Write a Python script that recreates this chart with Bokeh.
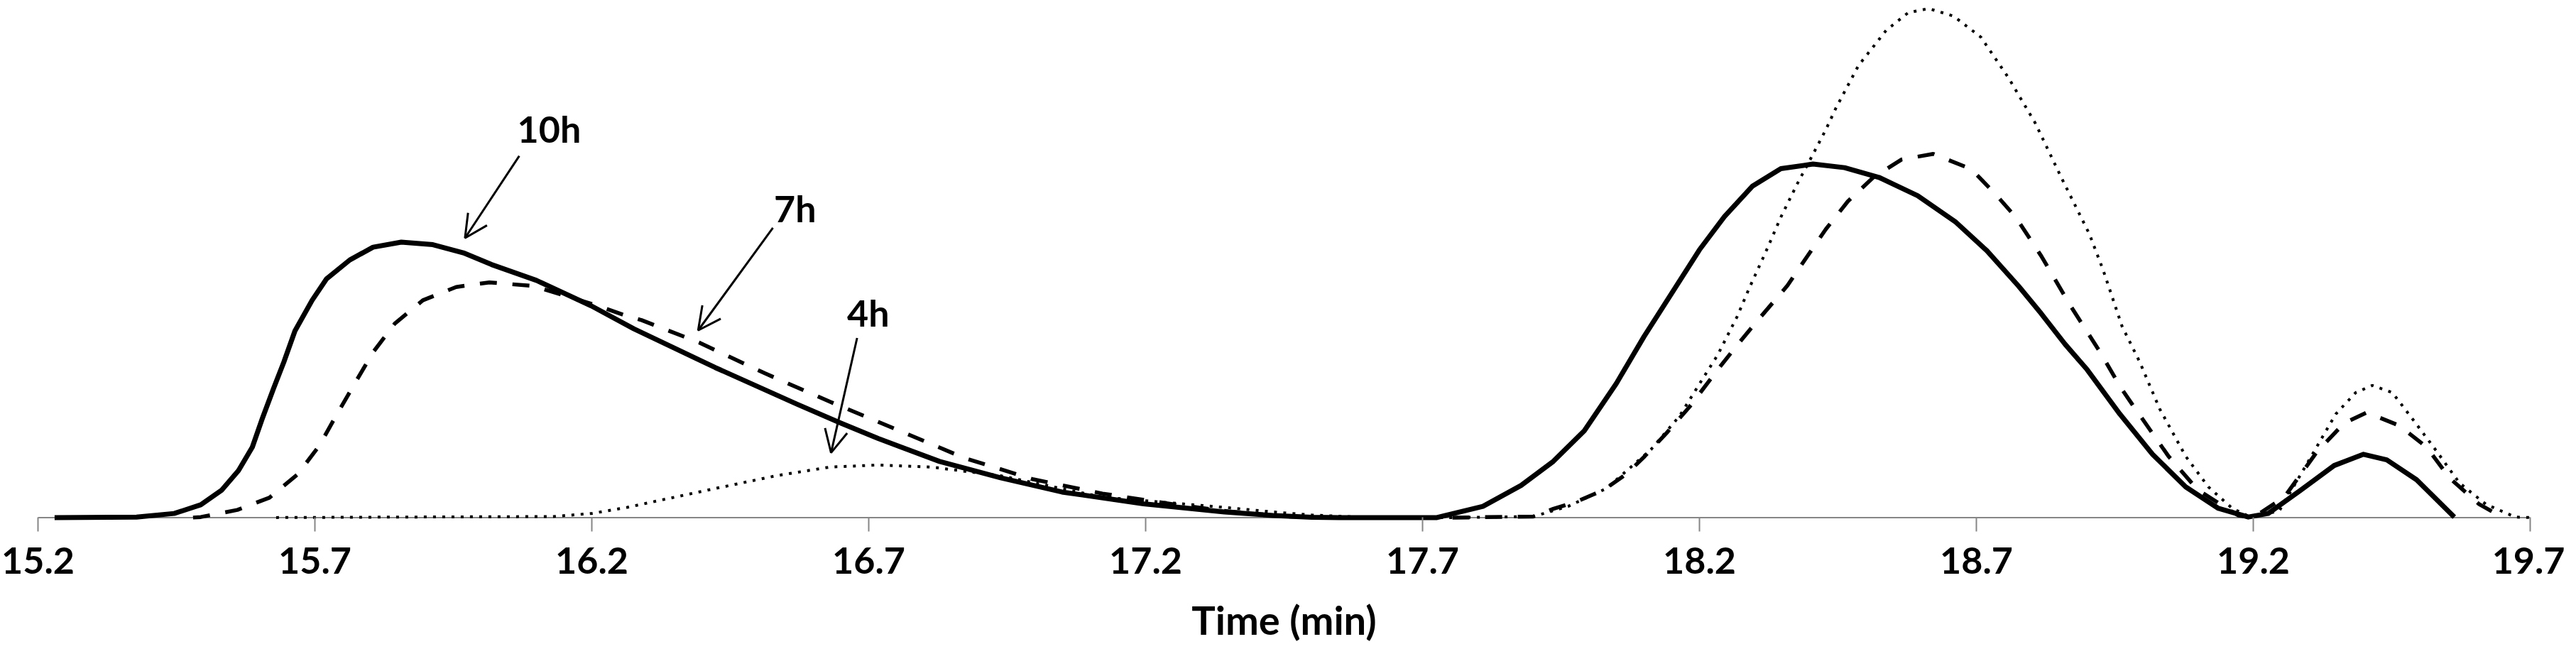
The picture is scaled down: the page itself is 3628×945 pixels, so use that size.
from bokeh.plotting import figure
from bokeh.models import Range1d, FixedTicker, Span, Arrow, OpenHead, ColumnDataSource
from bokeh.core.properties import value
from bokeh.embed import file_html
from bokeh.resources import INLINE

# ---- data ----
t_10h = [15.23, 15.378, 15.446, 15.494, 15.532, 15.562, 15.587, 15.605, 15.626, 15.644,
         15.664, 15.695, 15.721, 15.763, 15.805, 15.856, 15.913, 15.968, 16.019, 16.100,
         16.199, 16.276, 16.423, 16.571, 16.65, 16.717, 16.828, 16.938, 17.049, 17.196,
         17.342, 17.43, 17.5, 17.55, 17.726, 17.809, 17.878, 17.936, 17.992, 18.05,
         18.1, 18.15, 18.2, 18.245, 18.296, 18.347, 18.405, 18.462, 18.524, 18.594,
         18.663, 18.719, 18.776, 18.817, 18.86, 18.90, 18.959, 19.018, 19.078, 19.137,
         19.191, 19.227, 19.286, 19.346, 19.399, 19.441, 19.495, 19.563]
v_10h = [0, 0.1, 0.8, 2.5, 5.4, 9.2, 13.8, 19.4, 25.5, 30.5,
         36.6, 42.6, 46.8, 50.5, 53.0, 54.0, 53.5, 51.9, 49.6, 46.5,
         41.5, 37.0, 29.4, 22.2, 18.5, 15.5, 11.0, 7.8, 5.0, 2.7,
         1.1, 0.4, 0.05, 0, 0, 2.2, 6.3, 11.0, 17.0, 26.3,
         35.5, 44.0, 52.5, 59.0, 65.0, 68.4, 69.3, 68.6, 66.7, 63.1,
         57.9, 52.3, 45.4, 40.0, 34.0, 29.0, 20.3, 12.4, 6.0, 1.8,
         0.1, 0.8, 5.4, 10.2, 12.4, 11.3, 7.4, 0.1]

t_7h = [15.48, 15.494, 15.56, 15.618, 15.669, 15.708, 15.74, 15.772, 15.805, 15.844,
        15.895, 15.955, 16.015, 16.094, 16.208, 16.264, 16.29, 16.394, 16.512, 16.63,
        16.754, 16.872, 16.997, 17.122, 17.25, 17.35, 17.45, 17.55, 17.76, 17.9,
        17.936, 17.98, 18.027, 18.07, 18.101, 18.14, 18.182, 18.233, 18.268, 18.3,
        18.359, 18.387, 18.428, 18.468, 18.514, 18.565, 18.622, 18.691, 18.737, 18.771,
        18.817, 18.87, 18.923, 18.96, 18.982, 19.047, 19.1, 19.173, 19.2, 19.256,
        19.315, 19.364, 19.405, 19.464, 19.513, 19.554, 19.608, 19.649]
v_7h = [0, 0.1, 1.5, 3.9, 8.5, 14.1, 20.3, 26.3, 32.4, 38.0,
        42.6, 45.2, 46.1, 45.4, 41.6, 39.5, 38.7, 34.3, 28.3, 22.7,
        17.1, 11.7, 7.5, 4.7, 2.6, 1.2, 0.2, 0, 0, 0.2,
        1.7, 3.2, 5.4, 8.7, 12.0, 16.5, 21.7, 29.0, 33.8, 38.0,
        45.5, 50.0, 56.5, 62.0, 66.7, 70.2, 71.3, 68.3, 63.1, 58.9,
        51.3, 41.5, 32.5, 25.6, 22.1, 12.0, 5.4, 0.4, 0, 4.0,
        12.9, 18.5, 20.6, 18.0, 13.8, 7.8, 2.6, 0.1]

t_4h = [15.63, 16.13, 16.2, 16.264, 16.423, 16.533, 16.63, 16.717, 16.813, 16.938,
        17.122, 17.342, 17.43, 17.5, 17.6, 17.76, 17.9, 17.963, 18.032, 18.113,
        18.164, 18.204, 18.233, 18.268, 18.29, 18.319, 18.347, 18.376, 18.399, 18.428,
        18.446, 18.487, 18.537, 18.577, 18.614, 18.659, 18.708, 18.758, 18.806, 18.855,
        18.904, 18.929, 18.963, 18.995, 19.031, 19.078, 19.119, 19.162, 19.195, 19.247,
        19.295, 19.349, 19.385, 19.415, 19.451, 19.487, 19.531, 19.572, 19.62, 19.673,
        19.7]
v_4h = [0, 0.2, 0.8, 2.0, 5.7, 8.2, 9.9, 10.3, 9.9, 8.2,
        4.0, 2.0, 1.1, 0.5, 0, 0, 0.2, 2.2, 5.7, 13.4,
        19.9, 26.9, 31.9, 39.4, 45.0, 51.9, 58.9, 65.3, 70.0, 76.0,
        80.2, 88.6, 95.5, 99.0, 99.8, 98.3, 94.2, 86.2, 77.4, 66.3,
        55.6, 48.5, 37.5, 30.5, 21.3, 12.0, 6.0, 1.8, 0.1, 1.3,
        10.2, 20.3, 24.5, 25.9, 24.5, 19.4, 13.0, 6.8, 2.6, 0.1,
        0]

tick_vals = [15.2, 15.7, 16.2, 16.7, 17.2, 17.7, 18.2, 18.7, 19.2, 19.7]
tick_labels = ["15.2", "15.7", "16.2", "16.7", "17.2", "17.7", "18.2", "18.7", "19.2", "19.7"]
x_title = "Time (min)"

# annotations: label text, label position, arrow start/end (data units)
ann_text = ["10h", "7h", "4h"]
ann_x = [16.123, 16.567, 16.699]
ann_y = [76.3, 60.7, 40.2]
arr_x0 = [16.069, 16.527, 16.679]
arr_y0 = [70.9, 56.8, 35.2]
arr_x1 = [15.971, 16.392, 16.632]
arr_y1 = [54.8, 36.7, 12.7]

FONT = "Lato"

p = figure(width=3612, height=929,
           x_range=Range1d(15.2, 19.7), y_range=Range1d(-1.2, 101.4),
           output_backend="svg", toolbar_location=None, y_axis_location=None,
           min_border_left=53, min_border_right=49, min_border_top=0, min_border_bottom=192)
p.grid.visible = False
p.outline_line_color = None
p.background_fill_color = "white"
p.border_fill_color = "white"

# baseline (axis line at zero)
p.add_layout(Span(location=0, dimension="width", line_color="#868686", line_width=2, level="underlay"))

ax = p.xaxis[0]
ax.ticker = FixedTicker(ticks=tick_vals)
ax.major_label_overrides = {v: s for v, s in zip(tick_vals, tick_labels)}
ax.axis_line_color = None
ax.major_tick_line_color = "#868686"
ax.major_tick_line_width = 2
ax.major_tick_in = 9
ax.major_tick_out = 11
ax.minor_tick_line_color = None
ax.major_label_standoff = 22
ax.major_label_text_font = FONT
ax.major_label_text_font_style = "bold"
ax.major_label_text_font_size = "52px"
ax.major_label_text_color = "black"
ax.axis_label = x_title
ax.axis_label_text_font = FONT
ax.axis_label_text_font_style = "bold"
ax.axis_label_text_font_size = "56px"
ax.axis_label_text_color = "black"
ax.axis_label_standoff = 28

p.line(t_4h, v_4h, line_color="black", line_width=4, line_dash="4 9")
p.line(t_7h, v_7h, line_color="black", line_width=5.5, line_dash="24 22")
p.line(t_10h, v_10h, line_color="black", line_width=7, line_join="round")

for i in range(len(ann_text)):
    p.add_layout(Arrow(end=OpenHead(size=32, line_width=3, line_color="black"),
                       x_start=arr_x0[i], y_start=arr_y0[i], x_end=arr_x1[i], y_end=arr_y1[i],
                       line_width=3, line_color="black"))

src = ColumnDataSource(dict(x=ann_x, y=ann_y, text=ann_text))
p.text(x="x", y="y", text="text", source=src, text_font=value(FONT), text_font_style="bold",
       text_font_size="52px", text_align="center", text_baseline="middle", text_color="black")

open("out.html", "w").write(file_html(p, INLINE))
